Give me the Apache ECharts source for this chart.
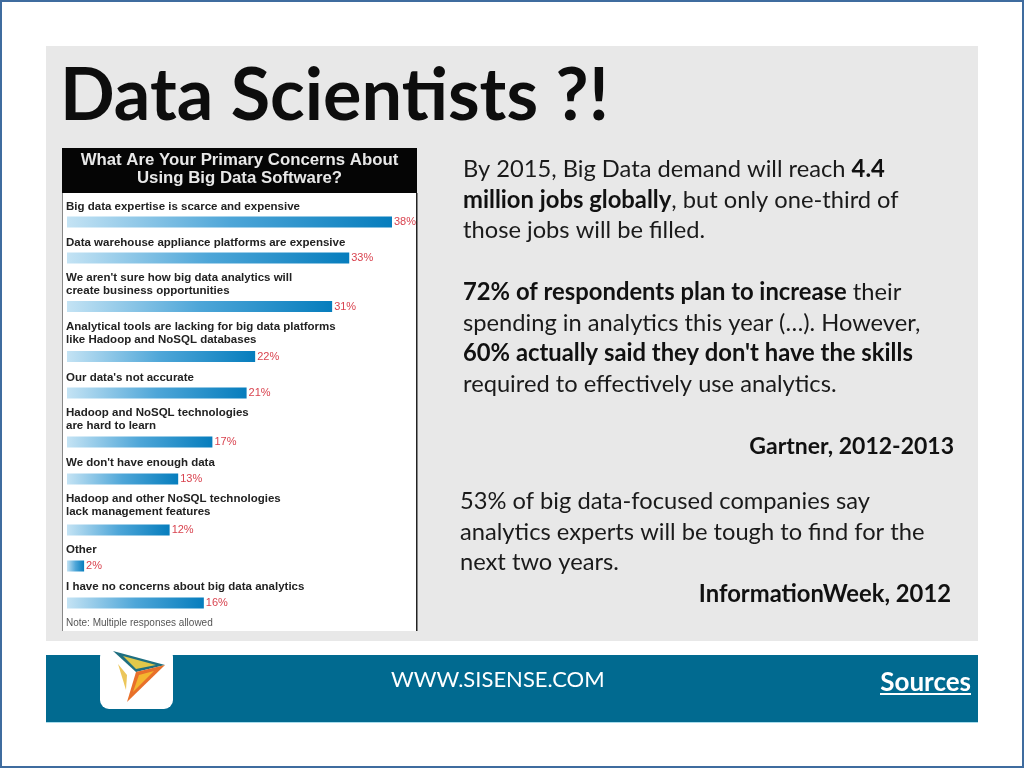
<!DOCTYPE html>
<html lang="en">
  <head>
    <meta charset="UTF-8" />
    <title>Data Scientists ?!</title>
    <script src="https://cdnjs.cloudflare.com/ajax/libs/echarts/6.0.0/echarts.min.js"></script>
    <style>
      html, body { margin: 0; padding: 0; background: #fff; }
      #chart { width: 1024px; height: 768px; }
    </style>
  </head>
  <body>
    <div id="chart"></div>
    <script type="text/javascript">
      const categories = [
        "Big data expertise is scarce and expensive",
        "Data warehouse appliance platforms are expensive",
        "We aren't sure how big data analytics will\ncreate business opportunities",
        "Analytical tools are lacking for big data platforms\nlike Hadoop and NoSQL databases",
        "Our data's not accurate",
        "Hadoop and NoSQL technologies\nare hard to learn",
        "We don't have enough data",
        "Hadoop and other NoSQL technologies\nlack management features",
        "Other",
        "I have no concerns about big data analytics",
      ];
      const percents = [38, 33, 31, 22, 21, 17, 13, 12, 2, 16];

      // layout of the rows: the bars are not evenly spaced in the original
      const barCenters = [222, 258, 306.5, 356.5, 393, 442, 479, 530, 566, 603];
      const labelTops = [200, 236, 271, 320, 371, 406, 456, 492, 543, 580];

      const BAR_LEFT = 67;
      const BAR_FULL = 325;
      const BAR_H = 11;
      const VALUE_MAX = 38;

      const barColor = new echarts.graphic.LinearGradient(0, 0, 1, 0, [
        { offset: 0, color: "#c4e3f4" },
        { offset: 0.5, color: "#4ea6d8" },
        { offset: 1, color: "#067dbd" },
      ]);

      const grids = [], xAxes = [], yAxes = [], series = [];
      percents.forEach((v, i) => {
        grids.push({
          left: BAR_LEFT,
          width: BAR_FULL,
          top: barCenters[i] - BAR_H / 2,
          height: BAR_H,
        });
        xAxes.push({ type: "value", gridIndex: i, min: 0, max: VALUE_MAX, show: false });
        yAxes.push({ type: "category", gridIndex: i, data: [categories[i]], show: false });
        series.push({
          type: "bar",
          xAxisIndex: i,
          yAxisIndex: i,
          barWidth: BAR_H,
          data: [v],
          itemStyle: { color: barColor },
          label: {
            show: true,
            position: "right",
            distance: 2,
            formatter: "{c}%",
            color: "#d9434f",
            fontFamily: "Liberation Sans",
            fontSize: 11,
          },
        });
      });

      const sans = "Lato";
      const REG = 23.7;
      const BOLD = 23.8;
      const text = (x, y, str, fontSize, fontWeight, fill, extra) => ({
        type: "text",
        x,
        y,
        style: Object.assign(
          { text: str, fontFamily: sans, fontSize, fontWeight, fill, lineHeight: fontSize * 1.4 },
          extra
        ),
      });
      const rect = (x, y, width, height, fill, r) => ({
        type: "rect",
        shape: { x, y, width, height, r: r || 0 },
        style: { fill },
      });
      const poly = (points, fill) => ({ type: "polygon", shape: { points }, style: { fill } });

      const rich = {
        b: { fontFamily: sans, fontSize: BOLD, fontWeight: "bold", fill: "#111", lineHeight: 30.6 },
        n: { fontFamily: sans, fontSize: REG, fill: "#1a1a1a", lineHeight: 30.6 },
      };
      const para = (x, y, str) => ({
        type: "text",
        x,
        y,
        style: { text: str, rich, fontFamily: sans, fontSize: REG, fill: "#1a1a1a", lineHeight: 30.6 },
      });

      // slide frame, panel and banner sit behind the bars
      const behind = [
        rect(1, 1, 1022, 766, "#fff"),
        rect(46, 46, 932, 595, "#e8e8e8"),
        rect(62, 148, 355, 483, "#fff"),
        rect(62, 148, 355, 45, "#050505"),
        rect(416, 193, 1.5, 438, "#222"),
        rect(62, 193, 1, 438, "#888"),
        rect(46, 655, 932, 67, "#016a90"),
        rect(46, 722, 932, 1, "#a8dcec"),
        rect(100, 648, 73, 61, "#fff", 9),
      ];
      const front = [
        {
          type: "rect",
          shape: { x: 1, y: 1, width: 1022, height: 766 },
          style: { fill: "none", stroke: "#3f6c9f", lineWidth: 2 },
        },
        poly([[113, 651], [165, 665], [136, 672]], "#1f6f80"),
        poly([[123, 656], [156, 665], [136, 669]], "#e2c84a"),
        poly([[165, 665], [136, 672], [127, 702]], "#e8702a"),
        poly([[154, 671], [139, 675], [133, 692]], "#f4b62f"),
        poly([[118, 664], [127, 675], [126, 690]], "#ecc65a"),
        text(60, 58, "Data Scientists ?!", 72, "bold", "#0d0d0d", { lineHeight: 78 }),
        {
          type: "text",
          x: 239.5,
          y: 151,
          style: {
            text: "What Are Your Primary Concerns About\nUsing Big Data Software?",
            fontFamily: "Liberation Sans",
            fontSize: 16.8,
            fontWeight: "bold",
            fill: "#e8e8e8",
            align: "center",
            lineHeight: 18.5,
          },
        },
        para(463, 154, "By 2015, Big Data demand will reach {b|4.4}\n{b|million jobs globally}, but only one-third of\nthose jobs will be filled."),
        para(463, 277, "{b|72% of respondents plan to increase} their\nspending in analytics this year (…). However,\n{b|60% actually said they don't have the skills}\nrequired to effectively use analytics."),
        text(954, 430, "Gartner, 2012-2013", 23, "bold", "#111", { align: "right" }),
        para(460, 486, "53% of big data-focused companies say\nanalytics experts will be tough to find for the\nnext two years."),
        text(951, 578, "InformationWeek, 2012", BOLD, "bold", "#111", { align: "right" }),
        text(391, 665, "WWW.SISENSE.COM", 22, "normal", "#fff"),
        text(971, 664, "Sources", 26, "bold", "#fff", { align: "right" }),
        rect(880, 693, 91, 2, "#fff"),
        {
          type: "text",
          x: 66,
          y: 618,
          style: { text: "Note: Multiple responses allowed", fontFamily: "Liberation Sans", fontSize: 10, fill: "#555" },
        },
      ];
      categories.forEach((c, i) => {
        front.push({
          type: "text",
          x: 66,
          y: labelTops[i],
          style: {
            text: c,
            fontFamily: "Liberation Sans",
            fontSize: 11.5,
            fontWeight: "bold",
            fill: "#222",
            lineHeight: 13.5,
          },
        });
      });

      const myChart = echarts.init(document.getElementById("chart"), null, { renderer: "canvas" });
      myChart.setOption({
        animation: false,
        grid: grids,
        xAxis: xAxes,
        yAxis: yAxes,
        series,
        graphic: [
          { type: "group", z: -10, silent: true, children: behind },
          { type: "group", z: 10, silent: true, children: front },
        ],
      });
    </script>
  </body>
</html>
